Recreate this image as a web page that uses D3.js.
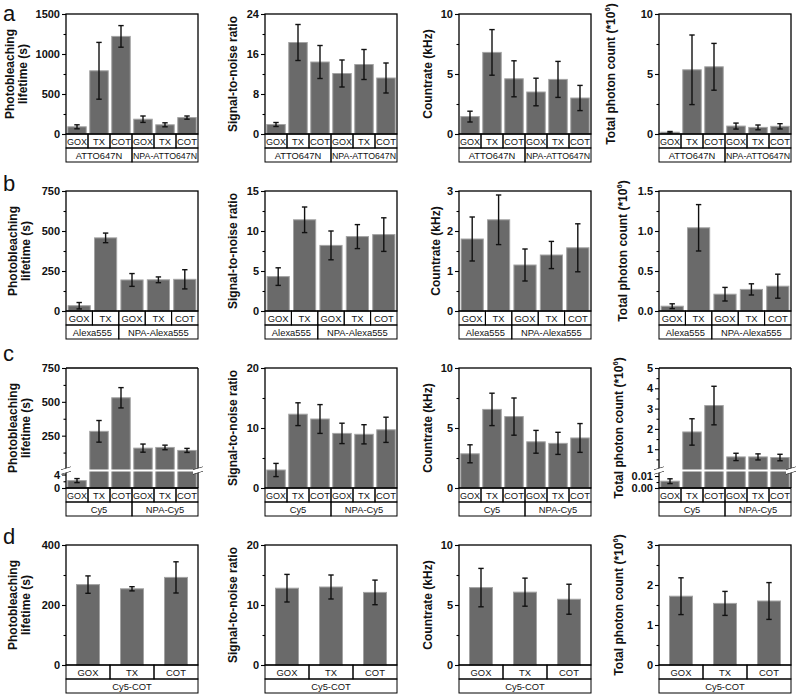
<!DOCTYPE html>
<html><head><meta charset="utf-8">
<script src="https://cdn.jsdelivr.net/npm/d3@7"></script>
<style>
body{margin:0;background:#fff}
svg{display:block}
text{font-family:"Liberation Sans",Arial,Helvetica,sans-serif}
</style>
</head><body>
<svg id="c" width="800" height="695"></svg>
<script>
// ---------------- DATA ----------------
const catsSix = ["GOX","TX","COT","GOX","TX","COT"];
const catsFive = ["GOX","TX","GOX","TX","COT"];
const catsThree = ["GOX","TX","COT"];

const groupsA = ["ATTO647N","NPA-ATTO647N"]; const groupSizesA = [3,3];
const groupsB = ["Alexa555","NPA-Alexa555"]; const groupSizesB = [2,3];
const groupsC = ["Cy5","NPA-Cy5"]; const groupSizesC = [3,3];
const groupsD = ["Cy5-COT"]; const groupSizesD = [3];

// row a
const lifetimeA = [90, 790, 1220, 185, 115, 205];
const lifetimeAErr = [25, 355, 135, 40, 25, 20];
const snrA = [1.9, 18.3, 14.4, 12.1, 13.9, 11.2];
const snrAErr = [0.4, 3.6, 3.3, 2.7, 3.0, 3.0];
const rateA = [1.45, 6.8, 4.6, 3.5, 4.55, 3.0];
const rateAErr = [0.45, 1.9, 1.5, 1.15, 1.5, 1.05];
const photonA = [0.15, 5.35, 5.6, 0.66, 0.55, 0.64];
const photonAErr = [0.06, 2.9, 1.95, 0.25, 0.2, 0.22];
// row b
const lifetimeB = [33, 457, 194, 195, 198];
const lifetimeBErr = [20, 30, 40, 18, 60];
const snrB = [4.3, 11.4, 8.2, 9.3, 9.55];
const snrBErr = [1.1, 1.6, 1.8, 1.5, 2.1];
const rateB = [1.8, 2.28, 1.15, 1.4, 1.58];
const rateBErr = [0.55, 0.62, 0.4, 0.34, 0.6];
const photonB = [0.06, 1.04, 0.21, 0.27, 0.31];
const photonBErr = [0.03, 0.29, 0.085, 0.07, 0.15];
// row c
const lifetimeC = [2.2, 282, 530, 158, 163, 141];
const lifetimeCErr = [0.6, 80, 75, 30, 17, 15];
const snrC = [3.0, 12.3, 11.5, 9.1, 8.95, 9.7];
const snrCErr = [1.1, 1.9, 2.4, 1.7, 1.6, 2.1];
const rateC = [2.85, 6.55, 5.95, 3.85, 3.72, 4.17];
const rateCErr = [0.75, 1.35, 1.55, 0.95, 0.92, 1.2];
const photonC = [0.0057, 1.85, 3.15, 0.62, 0.62, 0.59];
const photonCErr = [0.002, 0.65, 0.95, 0.18, 0.15, 0.16];
// row d
const lifetimeD = [268, 254, 292];
const lifetimeDErr = [29, 7, 52];
const snrD = [12.8, 13.0, 12.1];
const snrDErr = [2.3, 2.0, 2.05];
const rateD = [6.45, 6.07, 5.48];
const rateDErr = [1.6, 1.17, 1.25];
const photonD = [1.72, 1.54, 1.6];
const photonDErr = [0.46, 0.3, 0.46];

// tick values
const ticksLifetimeA = [0,500,1000,1500]; const minorLifetimeA = [250,750,1250];
const ticksSnrA = [0,8,16,24]; const minorSnrA = [4,12,20];
const ticksTen = [0,5,10]; const minorTen = [2.5,7.5];
const ticksLifetimeB = [0,250,500,750]; const minorLifetimeB = [125,375,625];
const ticksSnrB = [0,5,10,15]; const minorSnrB = [2.5,7.5,12.5];
const ticksThree = [0,1,2,3]; const minorThree = [0.5,1.5,2.5];
const ticksPhotonB = [0,0.5,1.0,1.5]; const minorPhotonB = [0.25,0.75,1.25];
const ticksTwenty = [0,10,20]; const minorTwenty = [5,15];
const ticksLifetimeCLow = [0,4]; const minorLifetimeCLow = [2];
const ticksLifetimeCHigh = [250,500,750]; const minorLifetimeCHigh = [125,375,625];
const ticksPhotonCLow = [0,0.01]; const minorPhotonCLow = [0.005];
const ticksPhotonCHigh = [1,2,3,4,5]; const minorPhotonCHigh = [0.5,1.5,2.5,3.5,4.5];
const ticksLifetimeD = [0,200,400]; const minorLifetimeD = [100,300];

const titleLifetime = ["Photobleaching","lifetime (s)"];
const titleSnr = ["Signal-to-noise ratio"];
const titleRate = ["Countrate (kHz)"];
const rowLetters = ["a","b","c","d"];

// ---------------- LAYOUT ----------------
const svg = d3.select("#c");
const PW = 132, PH = 120;
const colX = [66, 265, 459, 659];
const rowY = [14, 191, 368, 545];
const FONT = '"Liberation Sans",Arial,Helvetica,sans-serif';
const BAR_FILL = "#6a6a6a", BAR_STROKE = "#a3a3a3";
const CAT_FONT = 9.4;

function fitText(sel, maxW) {
  const w = sel.node().getComputedTextLength();
  if (w > maxW) sel.attr("textLength", maxW).attr("lengthAdjust", "spacingAndGlyphs");
}

function drawPanel(p) {
  const g = svg.append("g");
  const x0 = colX[p.col], y0 = rowY[p.row], bottom = y0 + PH;
  const n = p.cats.length;
  const x = d3.scaleBand().domain(d3.range(n)).range([x0, x0 + PW]);
  const bw = x.bandwidth();
  const barW = Math.min(bw * 0.84, 23);

  let yv;
  const axes = [];
  let gapTop, gapBot;
  if (p.brk) {
    gapBot = bottom - 16.5; gapTop = bottom - 18.5;
    const lo = d3.scaleLinear().domain([0, p.brk.loMax]).range([bottom, gapBot]);
    const hi = d3.scaleLinear().domain([0, p.brk.hiMax]).range([gapTop, y0]);
    yv = v => v <= p.brk.loMax ? lo(v) : hi(v);
    axes.push([lo, p.brk.loTicks, p.brk.loMinor, p.brk.loFmt]);
    axes.push([hi, p.brk.hiTicks, p.brk.hiMinor, p.fmt]);
  } else {
    const y = d3.scaleLinear().domain([0, p.max]).range([bottom, y0]);
    yv = y;
    axes.push([y, p.ticks, p.minor, p.fmt]);
  }

  // bars
  g.selectAll("rect.bar").data(p.values).join("rect")
    .attr("x", (d, i) => x(i) + (bw - barW) / 2)
    .attr("y", d => yv(d))
    .attr("width", barW)
    .attr("height", d => bottom - yv(d))
    .attr("fill", BAR_FILL).attr("stroke", BAR_STROKE).attr("stroke-width", 1);

  // break gap
  if (p.brk) {
    g.append("rect").attr("x", x0 - 1).attr("y", gapTop).attr("width", PW + 2).attr("height", gapBot - gapTop)
      .attr("fill", "#fff");
  }

  // error bars
  const eb = g.append("g").attr("stroke", "#111").attr("stroke-width", 1.4).attr("fill", "none");
  p.values.forEach((v, i) => {
    const cx = x(i) + bw / 2;
    const yt = yv(v + p.errs[i]), yb = yv(Math.max(0, v - p.errs[i]));
    eb.append("line").attr("x1", cx).attr("x2", cx).attr("y1", yt).attr("y2", yb);
    eb.append("line").attr("x1", cx - 2.7).attr("x2", cx + 2.7).attr("y1", yt).attr("y2", yt);
    eb.append("line").attr("x1", cx - 2.7).attr("x2", cx + 2.7).attr("y1", yb).attr("y2", yb);
  });

  // frame
  if (p.brk) {
    const fr = g.append("g").attr("stroke", "#000").attr("stroke-width", 1.3).attr("fill", "none");
    fr.append("line").attr("x1", x0).attr("x2", x0 + PW).attr("y1", y0).attr("y2", y0);
    fr.append("line").attr("x1", x0).attr("x2", x0 + PW).attr("y1", bottom).attr("y2", bottom);
    [x0, x0 + PW].forEach(xs => {
      fr.append("line").attr("x1", xs).attr("x2", xs).attr("y1", y0).attr("y2", gapTop);
      fr.append("line").attr("x1", xs).attr("x2", xs).attr("y1", gapBot).attr("y2", bottom);
      const c = (gapTop + gapBot) / 2;
      g.append("polygon")
        .attr("points", [[xs - 5, c - 0.5], [xs + 5, c - 3.5], [xs + 5, c + 0.5], [xs - 5, c + 3.5]].map(q => q.join(",")).join(" "))
        .attr("fill", "#fff");
      fr.append("line").attr("x1", xs - 5).attr("y1", c - 0.5).attr("x2", xs + 5).attr("y2", c - 3.5).attr("stroke-width", 1);
      fr.append("line").attr("x1", xs - 5).attr("y1", c + 3.5).attr("x2", xs + 5).attr("y2", c + 0.5).attr("stroke-width", 1);
    });
  } else {
    g.append("rect").attr("x", x0).attr("y", y0).attr("width", PW).attr("height", PH)
      .attr("fill", "none").attr("stroke", "#000").attr("stroke-width", 1.3);
  }

  // axes
  axes.forEach(([sc, tv, mv, fmt]) => {
    g.append("g").attr("transform", `translate(${x0},0)`)
      .call(d3.axisLeft(sc).tickValues(mv).tickSize(2.5).tickFormat(""))
      .call(s => { s.select(".domain").remove(); s.selectAll("line").attr("stroke-width", 1.1); });
    const ax = g.append("g").attr("transform", `translate(${x0},0)`)
      .call(d3.axisLeft(sc).tickValues(tv).tickSize(4).tickPadding(2).tickFormat(fmt))
      .call(s => { s.select(".domain").remove(); s.selectAll("line").attr("stroke-width", 1.1); });
    ax.attr("font-family", FONT).attr("font-size", 11);
    ax.selectAll("text").attr("font-weight", "bold").attr("fill", "#111");
  });

  // category boxes
  const cg = g.append("g");
  p.cats.forEach((c, i) => {
    cg.append("rect").attr("x", x(i)).attr("y", bottom).attr("width", bw).attr("height", 14)
      .attr("fill", "none").attr("stroke", "#000").attr("stroke-width", 1);
    const t = cg.append("text").attr("x", x(i) + bw / 2).attr("y", bottom + 10.8).attr("text-anchor", "middle")
      .attr("font-size", CAT_FONT).attr("fill", "#111").text(c);
    fitText(t, bw - 2);
  });
  let start = 0;
  p.groups.forEach((gn, k) => {
    const gx0 = x(start), gx1 = x(start + p.groupSizes[k] - 1) + bw;
    cg.append("rect").attr("x", gx0).attr("y", bottom + 14).attr("width", gx1 - gx0).attr("height", 14)
      .attr("fill", "none").attr("stroke", "#000").attr("stroke-width", 1);
    const t = cg.append("text").attr("x", (gx0 + gx1) / 2).attr("y", bottom + 24.8).attr("text-anchor", "middle")
      .attr("font-size", CAT_FONT).attr("fill", "#111").text(gn);
    fitText(t, gx1 - gx0 - 2);
    start += p.groupSizes[k];
  });

  // y title
  const yc = y0 + PH / 2;
  if (p.photonTitle) {
    const t = g.append("text").attr("transform", `translate(${p.titleX},${yc}) rotate(-90)`)
      .attr("text-anchor", "middle").attr("font-size", 12).attr("font-weight", "bold").attr("fill", "#111");
    t.append("tspan").text("Total photon count (*10");
    t.append("tspan").attr("font-size", 7.5).attr("dy", -5).text("6");
    t.append("tspan").attr("dy", 5).text(")");
  } else {
    const lines = p.title;
    lines.forEach((ln, k) => {
      const bx = p.titleX - (lines.length - 1 - k) * 13;
      g.append("text").attr("transform", `translate(${bx},${yc}) rotate(-90)`)
        .attr("text-anchor", "middle").attr("font-size", 12).attr("font-weight", "bold").attr("fill", "#111")
        .text(ln);
    });
  }
}

const fmtPlain = d => String(d);
const fmtOne = d3.format(".1f");
const fmtTwo = d3.format(".2f");

// row letters
rowLetters.forEach((L, r) => {
  svg.append("text").attr("x", 3).attr("y", [20.5, 191, 361, 544][r]).attr("font-size", 22).attr("fill", "#111").text(L);
});

// row a
drawPanel({row:0,col:0,cats:catsSix,groups:groupsA,groupSizes:groupSizesA,values:lifetimeA,errs:lifetimeAErr,max:1500,ticks:ticksLifetimeA,minor:minorLifetimeA,fmt:fmtPlain,title:titleLifetime,titleX:27});
drawPanel({row:0,col:1,cats:catsSix,groups:groupsA,groupSizes:groupSizesA,values:snrA,errs:snrAErr,max:24,ticks:ticksSnrA,minor:minorSnrA,fmt:fmtPlain,title:titleSnr,titleX:237});
drawPanel({row:0,col:2,cats:catsSix,groups:groupsA,groupSizes:groupSizesA,values:rateA,errs:rateAErr,max:10,ticks:ticksTen,minor:minorTen,fmt:fmtPlain,title:titleRate,titleX:432});
drawPanel({row:0,col:3,cats:catsSix,groups:groupsA,groupSizes:groupSizesA,values:photonA,errs:photonAErr,max:10,ticks:ticksTen,minor:minorTen,fmt:fmtPlain,photonTitle:true,titleX:615});
// row b
drawPanel({row:1,col:0,cats:catsFive,groups:groupsB,groupSizes:groupSizesB,values:lifetimeB,errs:lifetimeBErr,max:750,ticks:ticksLifetimeB,minor:minorLifetimeB,fmt:fmtPlain,title:titleLifetime,titleX:30});
drawPanel({row:1,col:1,cats:catsFive,groups:groupsB,groupSizes:groupSizesB,values:snrB,errs:snrBErr,max:15,ticks:ticksSnrB,minor:minorSnrB,fmt:fmtPlain,title:titleSnr,titleX:237});
drawPanel({row:1,col:2,cats:catsFive,groups:groupsB,groupSizes:groupSizesB,values:rateB,errs:rateBErr,max:3,ticks:ticksThree,minor:minorThree,fmt:fmtPlain,title:titleRate,titleX:440});
drawPanel({row:1,col:3,cats:catsFive,groups:groupsB,groupSizes:groupSizesB,values:photonB,errs:photonBErr,max:1.5,ticks:ticksPhotonB,minor:minorPhotonB,fmt:fmtOne,photonTitle:true,titleX:627});
// row c
drawPanel({row:2,col:0,cats:catsSix,groups:groupsC,groupSizes:groupSizesC,values:lifetimeC,errs:lifetimeCErr,fmt:fmtPlain,title:titleLifetime,titleX:30,
  brk:{loMax:4.9,hiMax:750,loTicks:ticksLifetimeCLow,loMinor:minorLifetimeCLow,loFmt:fmtPlain,hiTicks:ticksLifetimeCHigh,hiMinor:minorLifetimeCHigh}});
drawPanel({row:2,col:1,cats:catsSix,groups:groupsC,groupSizes:groupSizesC,values:snrC,errs:snrCErr,max:20,ticks:ticksTwenty,minor:minorTwenty,fmt:fmtPlain,title:titleSnr,titleX:237});
drawPanel({row:2,col:2,cats:catsSix,groups:groupsC,groupSizes:groupSizesC,values:rateC,errs:rateCErr,max:10,ticks:ticksTen,minor:minorTen,fmt:fmtPlain,title:titleRate,titleX:432});
drawPanel({row:2,col:3,cats:catsSix,groups:groupsC,groupSizes:groupSizesC,values:photonC,errs:photonCErr,fmt:fmtPlain,photonTitle:true,titleX:623,
  brk:{loMax:0.0138,hiMax:5,loTicks:ticksPhotonCLow,loMinor:minorPhotonCLow,loFmt:fmtTwo,hiTicks:ticksPhotonCHigh,hiMinor:minorPhotonCHigh}});
// row d
drawPanel({row:3,col:0,cats:catsThree,groups:groupsD,groupSizes:groupSizesD,values:lifetimeD,errs:lifetimeDErr,max:400,ticks:ticksLifetimeD,minor:minorLifetimeD,fmt:fmtPlain,title:titleLifetime,titleX:30});
drawPanel({row:3,col:1,cats:catsThree,groups:groupsD,groupSizes:groupSizesD,values:snrD,errs:snrDErr,max:20,ticks:ticksTwenty,minor:minorTwenty,fmt:fmtPlain,title:titleSnr,titleX:237});
drawPanel({row:3,col:2,cats:catsThree,groups:groupsD,groupSizes:groupSizesD,values:rateD,errs:rateDErr,max:10,ticks:ticksTen,minor:minorTen,fmt:fmtPlain,title:titleRate,titleX:432});
drawPanel({row:3,col:3,cats:catsThree,groups:groupsD,groupSizes:groupSizesD,values:photonD,errs:photonDErr,max:3,ticks:ticksThree,minor:minorThree,fmt:fmtPlain,photonTitle:true,titleX:623});
</script>
</body></html>
